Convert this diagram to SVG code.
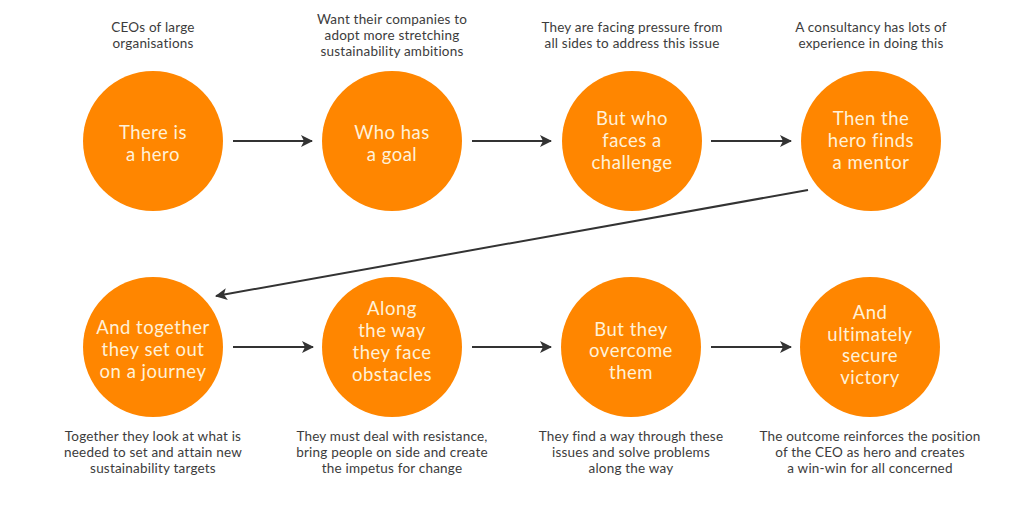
<svg xmlns="http://www.w3.org/2000/svg" width="1024" height="513" viewBox="0 0 1024 513">
<defs>
<style>
.c{fill:#FF8600}
.t{font-family:Lato,"Open Sans",sans-serif;font-size:18.5px;letter-spacing:0.5px;fill:#FFF1D8;text-anchor:middle}
.s{font-family:Lato,"Open Sans",sans-serif;font-size:13.5px;letter-spacing:0.2px;fill:#3c3c3c;text-anchor:middle}
.a{stroke:#333;stroke-width:2;fill:none;marker-end:url(#ah)}
</style>
<marker id="ah" viewBox="0 0 12 12" refX="11" refY="6" markerWidth="12" markerHeight="12" markerUnits="userSpaceOnUse" orient="auto">
<path d="M0,0 L12,6 L0,12 L3,6 Z" fill="#333"/>
</marker>
</defs>
<rect width="1024" height="513" fill="#fff"/>
<g id="connectors">
<line class="a" x1="233" y1="141" x2="312" y2="141"/>
<line class="a" x1="472" y1="141" x2="551" y2="141"/>
<line class="a" x1="711" y1="141" x2="791" y2="141"/>
<line class="a" x1="808" y1="190" x2="216" y2="296"/>
<line class="a" x1="233" y1="347" x2="313" y2="347"/>
<line class="a" x1="472" y1="347" x2="551" y2="347"/>
<line class="a" x1="711" y1="347" x2="791" y2="347"/>
</g>
<g id="n1">
<text class="s" x="153" y="32">CEOs of large</text>
<text class="s" x="153" y="48">organisations</text>
<circle class="c" cx="153" cy="141" r="70"/>
<text class="t" x="153" y="139">There is</text>
<text class="t" x="153" y="161">a hero</text>
</g>
<g id="n2">
<text class="s" x="392" y="24">Want their companies to</text>
<text class="s" x="392" y="40">adopt more stretching</text>
<text class="s" x="392" y="56">sustainability ambitions</text>
<circle class="c" cx="392" cy="141" r="70"/>
<text class="t" x="392" y="139">Who has</text>
<text class="t" x="392" y="161">a goal</text>
</g>
<g id="n3">
<text class="s" x="632" y="32">They are facing pressure from</text>
<text class="s" x="632" y="48">all sides to address this issue</text>
<circle class="c" cx="632" cy="141" r="70"/>
<text class="t" x="632" y="125">But who</text>
<text class="t" x="632" y="147">faces a</text>
<text class="t" x="632" y="169">challenge</text>
</g>
<g id="n4">
<text class="s" x="871" y="32">A consultancy has lots of</text>
<text class="s" x="871" y="48">experience in doing this</text>
<circle class="c" cx="871" cy="141" r="70"/>
<text class="t" x="871" y="125">Then the</text>
<text class="t" x="871" y="147">hero finds</text>
<text class="t" x="871" y="169">a mentor</text>
</g>
<g id="n5">
<circle class="c" cx="153" cy="347" r="70"/>
<text class="t" x="153" y="334">And together</text>
<text class="t" x="153" y="356">they set out</text>
<text class="t" x="153" y="378">on a journey</text>
<text class="s" x="153" y="441">Together they look at what is</text>
<text class="s" x="153" y="457">needed to set and attain new</text>
<text class="s" x="153" y="473">sustainability targets</text>
</g>
<g id="n6">
<circle class="c" cx="392" cy="347" r="70"/>
<text class="t" x="392" y="315">Along</text>
<text class="t" x="392" y="337">the way</text>
<text class="t" x="392" y="359">they face</text>
<text class="t" x="392" y="381">obstacles</text>
<text class="s" x="392" y="441">They must deal with resistance,</text>
<text class="s" x="392" y="457">bring people on side and create</text>
<text class="s" x="392" y="473">the impetus for change</text>
</g>
<g id="n7">
<circle class="c" cx="631" cy="347" r="70"/>
<text class="t" x="631" y="336">But they</text>
<text class="t" x="631" y="357">overcome</text>
<text class="t" x="631" y="379">them</text>
<text class="s" x="631" y="441">They find a way through these</text>
<text class="s" x="631" y="457">issues and solve problems</text>
<text class="s" x="631" y="473">along the way</text>
</g>
<g id="n8">
<circle class="c" cx="870" cy="347" r="70"/>
<text class="t" x="870" y="319">And</text>
<text class="t" x="870" y="341">ultimately</text>
<text class="t" x="870" y="362">secure</text>
<text class="t" x="870" y="384">victory</text>
<text class="s" x="870" y="441">The outcome reinforces the position</text>
<text class="s" x="870" y="457">of the CEO as hero and creates</text>
<text class="s" x="870" y="473">a win-win for all concerned</text>
</g>
</svg>
